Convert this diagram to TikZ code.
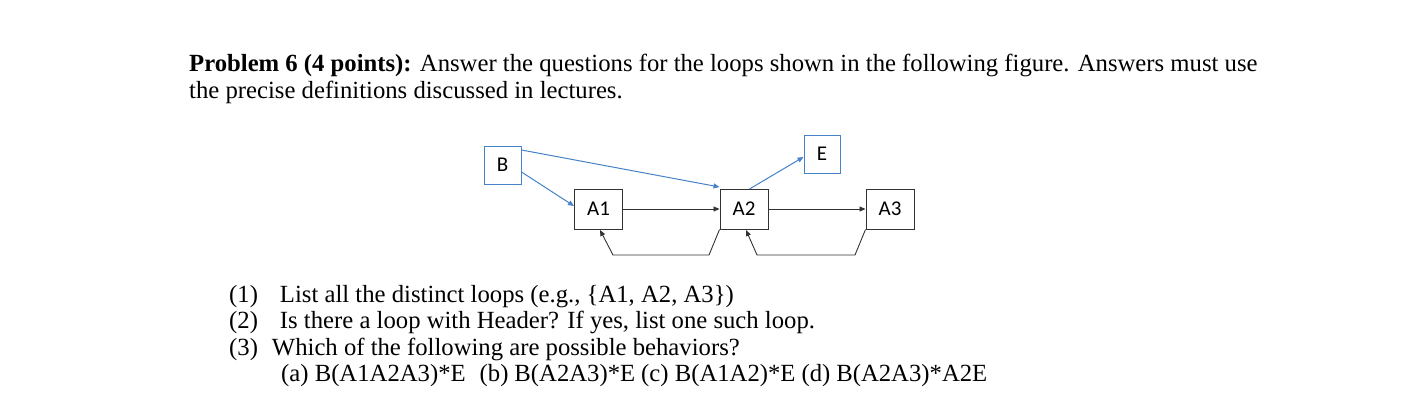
\documentclass[tikz,border=0pt]{standalone}
\usepackage{fontspec}
\setmainfont{Liberation Serif}
\newfontfamily\diag{Carlito}
\usetikzlibrary{arrows.meta}
\begin{document}
\begin{tikzpicture}[x=1pt,y=-1pt,
  txt/.style={anchor=base west,inner sep=0pt,font=\fontsize{24.7}{28}\selectfont},
  bbox/.style={draw=#1,line width=1pt,minimum width=48pt,minimum height=40pt,inner sep=0pt,font=\diag\fontsize{21}{24}\selectfont},
  blue/.style={draw=blue!60!cyan!80!black,line width=1pt,-{Triangle[length=6pt,width=5pt]}},
  blk/.style={draw=black!80,line width=0.9pt,-{Triangle[length=6pt,width=5pt]}}]
\useasboundingbox (0,0) rectangle (1403,412);
\definecolor{bl}{RGB}{70,130,200}
\node[txt] (t1) at (189,72) {\textbf{Problem 6 (4 points):} Answer the questions for the loops shown in the following figure. Answers must use};
\node[txt] (t2) at (189,99) {the precise definitions discussed in lectures.};
\node[bbox=bl,minimum width=37pt,minimum height=38pt] (B) at (502.5,165) {B};
\node[bbox=bl,minimum width=36pt,minimum height=38pt] (E) at (822,154) {E};
\node[bbox=black!80] (A1) at (598.5,209) {A1};
\node[bbox=black!80] (A2) at (744,209) {A2};
\node[bbox=black!80] (A3) at (890,209) {A3};
\draw[blk] (A1) -- (A2);
\draw[blk] (A2) -- (A3);
\draw[blue,draw=bl] (B.east |- 0,172) -- (A1.north west |- 0,206) coordinate (a1e);
\draw[blue,draw=bl] (B.north east |- 0,150) -- (A2.north west |- 0,187);
\draw[blue,draw=bl] (A2.north west |- 0,189) ++(30,0) coordinate (a2t) -- (E.west |- 0,157);
\draw[blk] (A2.south west) -- (709,255) -- (613,255) -- (600,230);
\draw[blk] (A3.south west) -- (855,255) -- (757,255) -- (746,230);
\node[txt] (l1) at (229,302) {(1)\hspace{22pt}List all the distinct loops (e.g., \{A1, A2, A3\})};
\node[txt] (l2) at (229,328) {(2)\hspace{22pt}Is there a loop with Header? If yes, list one such loop.};
\node[txt] (l3) at (229,355) {(3)\hspace{14pt}Which of the following are possible behaviors?};
\node[txt] (l4) at (281,381) {(a) B(A1A2A3)*E\hspace{14pt}(b)\hspace{6pt}B(A2A3)*E\hspace{6pt}(c) B(A1A2)*E\hspace{6pt}(d)\hspace{6pt}B(A2A3)*A2E};
\end{tikzpicture}
\end{document}
